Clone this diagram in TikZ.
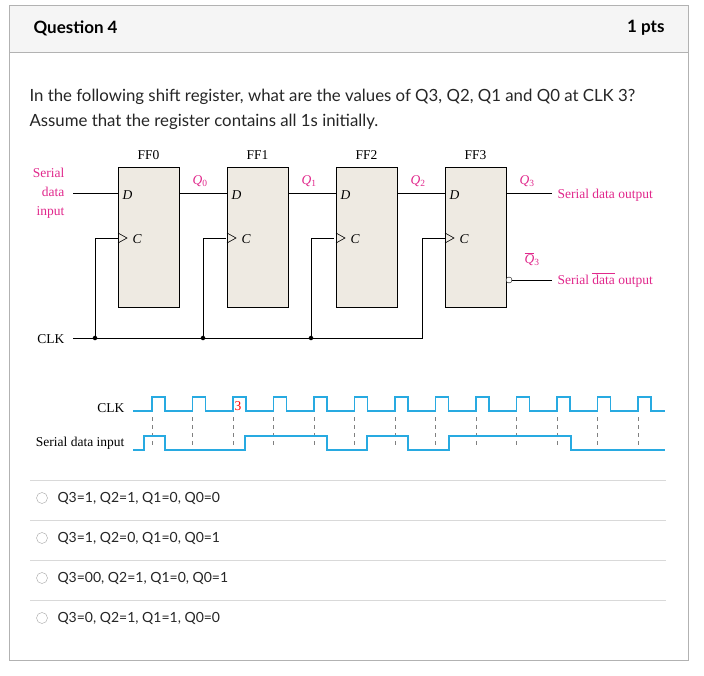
\documentclass[tikz,border=0pt]{standalone}
\usepackage{fontspec}
\setmainfont{Lato}
\newfontfamily\tms{Liberation Serif}
\begin{document}
\begin{tikzpicture}[x=1pt,y=-1pt,
  ff/.style={draw,line width=0.9pt,fill=ffbg,minimum width=61pt,minimum height=140pt,anchor=north west,inner sep=0},
  pk/.style={text=pinkc,font=\tms\fontsize{13.5}{15.5}\selectfont},
  tt/.style={font=\tms\fontsize{13.5}{15.5}\selectfont},
  wv/.style={draw=wavec,line width=1.3pt},
  dot/.style={circle,fill,inner sep=1.6pt},
  opt/.style={anchor=west,font=\fontsize{14}{16}\selectfont,text=black!85}]
\definecolor{ffbg}{RGB}{238,234,226}
\definecolor{pinkc}{RGB}{225,40,140}
\definecolor{wavec}{RGB}{40,170,225}
\definecolor{hdr}{RGB}{245,245,245}
\useasboundingbox (0,0) rectangle (704,676);
\fill[white] (0,0) rectangle (704,676);
% frame
\fill[hdr] (9,5) rectangle (688,52);
\draw[gray!60] (9,5) rectangle (688,660);
\draw[gray!60] (9,52) -- (688,52);
\node[anchor=west,font=\bfseries\fontsize{17}{20}\selectfont] (title) at (30,28) {Question 4};
\node[anchor=east,font=\bfseries\fontsize{17}{20}\selectfont] (pts) at (668,28) {1 pts};
\node[anchor=west,font=\fontsize{16.8}{19}\selectfont,text=black!85] (q1) at (26,97) {In the following shift register, what are the values of Q3, Q2, Q1 and Q0 at CLK 3?};
\node[anchor=west,font=\fontsize{16.8}{19}\selectfont,text=black!85] (q2) at (26,122) {Assume that the register contains all 1s initially.};
% flip-flops
\foreach \i/\x in {0/118,1/227,2/336,3/445}{
  \node[ff] (ff\i) at (\x,167) {};
  \node[tt] (lab\i) at (\x+30.5,155) {FF\i};
  \node[tt,anchor=west] (d\i) at (\x+1,195) {\textit{D}};
  \node[tt,anchor=west] (c\i) at (\x+11,239) {\textit{C}};
  \draw[line width=0.6pt] (\x,233) -- (\x+9,238) -- (\x,243);
}
% data chain
\coordinate (sin) at (73,193);
\draw (sin) -- (118,193);
\draw (180,193) -- (227,193);
\draw (288,193) -- (336,193);
\draw (397,193) -- (445,193);
\draw (506,193) -- (552,193);
\node[pk] (qq0) at (200,181) {\textit{Q}\textsubscript{0}};
\node[pk] (qq1) at (309,181) {\textit{Q}\textsubscript{1}};
\node[pk] (qq2) at (418,181) {\textit{Q}\textsubscript{2}};
\node[pk] (qq3) at (527,181) {\textit{Q}\textsubscript{3}};
\node[pk] (qq3b) at (532,259) {$\overline{\mbox{\textit{Q}}}$\textsubscript{3}};
\node[pk,anchor=west] (so) at (554,195) {Serial data output};
\node[pk,anchor=west] (sob) at (554,280) {Serial $\overline{\mbox{data}}$ output};
\node[draw,circle,inner sep=0,minimum size=6pt,fill=white] (bub) at (509,280) {};
\draw (bub.east) -- (552,280);
\node[pk,align=right,anchor=east,font=\tms\fontsize{13.5}{19}\selectfont] (sdi) at (68,193) {Serial\\data\\input};
% clock
\node[tt,anchor=east] (clk) at (68,339) {CLK};
\draw (73,338) -- (422,338) -- (422,238) -- (445,238);
\foreach \x in {95,203,311}{
  \node[dot] at (\x,338) {};
  \draw (\x,338) -- (\x,238) -- (\x+23,238);
}
% waveforms
\node[tt,anchor=east] (wclk) at (128,408) {CLK};
\node[tt,anchor=east] (wsd) at (128,443) {Serial data input};
\draw[wv] (133,411) \foreach \k in {0,...,12}{ -- ({152+40.5*\k},411) -- ({152+40.5*\k},397) -- ({165+40.5*\k},397) -- ({165+40.5*\k},411)} -- (665,411);
\foreach \k in {0,...,12}{
  \draw[gray,dashed,dash pattern=on 4pt off 4pt] ({152+40.5*\k},417) -- ({152+40.5*\k},447);
}
\draw[wv] (133,450) -- (144,450) -- (144,436) -- (165,436) -- (165,450) -- (245,450) -- (245,436) -- (327,436) -- (327,450) -- (367,450) -- (367,436) -- (408,436) -- (408,450) -- (449,450) -- (449,436) -- (571,436) -- (571,450) -- (665,450);
\node[text=red,font=\tms\fontsize{13.5}{15}\selectfont,inner sep=0.5pt] (three) at (238,406) {3};
% options
\foreach \y in {480,520,560,600}{ \draw[gray!30] (30,\y) -- (666,\y); }
\foreach \y/\t in {498/{Q3=1, Q2=1, Q1=0, Q0=0},538/{Q3=1, Q2=0, Q1=0, Q0=1},578/{Q3=00, Q2=1, Q1=0, Q0=1},618/{Q3=0, Q2=1, Q1=1, Q0=0}}{
  \draw[gray!70] (42,\y) circle (5.5);
  \node[opt] at (54,\y) {\t};
}
\end{tikzpicture}
\end{document}
